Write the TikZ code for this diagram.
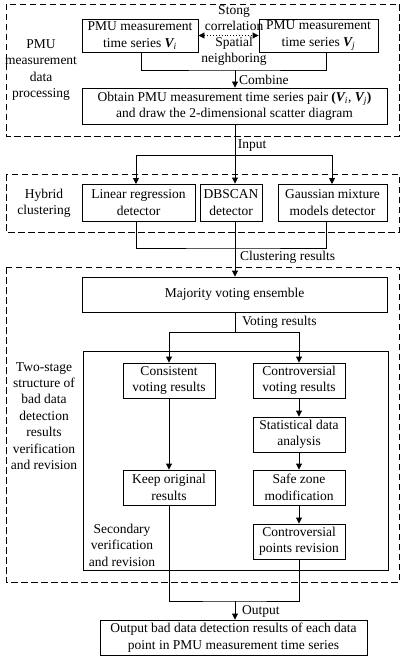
\documentclass[tikz,border=0pt]{standalone}
\usepackage{fontspec}
\setmainfont{Liberation Serif}
\usetikzlibrary{arrows.meta}
\newcommand{\Vv}[1]{{\bfseries\itshape V}\textsubscript{\itshape #1}}
\begin{document}
\begin{tikzpicture}[x=1pt,y=-1pt,
  every node/.style={font=\fontsize{13.5}{16.4}\selectfont, inner sep=0pt, align=center},
  box/.style={draw, line width=0.9pt, rectangle},
  dbox/.style={draw, line width=0.9pt, dash pattern=on 6.5pt off 3.5pt},
  ln/.style={line width=0.9pt},
  arr/.style={line width=0.9pt, -{Triangle[length=6pt,width=6pt]}},
  lbl/.style={}]
\useasboundingbox (0,0) rectangle (400,658);
% group frames
\draw[dbox] (6,4) rectangle (399,136);
\draw[dbox] (6,174) rectangle (399,232);
\draw[dbox] (6,267) rectangle (399,582);
\draw[ln] (83,351) rectangle (388,570);
% stage 1
\node[box, minimum width=116, minimum height=33] (vi) at (140,35.5) {PMU measurement\\time series \Vv{i}};
\node[box, minimum width=119, minimum height=33] (vj) at (318.5,35.5) {PMU measurement\\time series \Vv{j}};
\node (corr) at (234,18) {Stong\\correlation};
\node (spat) at (234,51) {Spatial\\neighboring};
\draw[line width=0.9pt, dotted, {Triangle[length=6pt,width=6pt]}-{Triangle[length=6pt,width=6pt]}] (vi.east) -- (vj.east -| vj.west);
\node (lab1) at (41,70) {PMU\\measurement\\data\\processing};
\node[box, minimum width=305, minimum height=36] (obt) at (234.5,106) {Obtain PMU measurement time series pair {\bfseries(}\Vv{i}, \Vv{j}{\bfseries)}\\and draw the 2-dimensional scatter diagram};
\coordinate (cmb) at (235,70);
\draw[ln] ([xshift=1pt]vi.south) |- (cmb) -| ([xshift=7.5pt]vj.south);
\draw[arr] (cmb) -- (cmb |- obt.north);
\node[anchor=west] (combine) at (239,80) {Combine};
% stage 2
\node[box, minimum width=113, minimum height=37] (lr) at (138.5,202.5) {Linear regression\\detector};
\node[box, minimum width=62, minimum height=37] (db) at (231,202.5) {DBSCAN\\detector};
\node[box, minimum width=109, minimum height=37] (gmm) at (332.5,202.5) {Gaussian mixture\\models detector};
\node (lab2) at (44,203) {Hybrid\\clustering};
\coordinate (inp) at (235,155);
\draw[ln] (obt.south -| inp) -- (inp);
\draw[arr] (inp) -| (136,184);
\draw[arr] (inp) -| (332,184);
\draw[arr] (inp) -- (inp |- db.north);
\node (input) at (252,146) {Input};
% clustering results
\coordinate (cr) at (235,248);
\node[box, minimum width=305, minimum height=35] (maj) at (234.5,294.5) {Majority voting ensemble};
\draw[ln] (lr.south -| 136,0) |- (cr) -| (gmm.south -| 326,0);
\draw[ln] (db.south -| cr) -- (cr);
\draw[arr] (cr) -- (cr |- maj.north);
\node[anchor=west] (clres) at (240,257) {Clustering results};
% stage 3
\node[box, minimum width=92, minimum height=35] (cons) at (169,380.5) {Consistent\\voting results};
\node[box, minimum width=92, minimum height=35] (contr) at (299,380.5) {Controversial\\voting results};
\node[box, minimum width=92, minimum height=35] (stat) at (299,434.5) {Statistical data\\analysis};
\node[box, minimum width=92, minimum height=35] (safe) at (299,487.5) {Safe zone\\modification};
\node[box, minimum width=92, minimum height=35] (keep) at (169,487.5) {Keep original\\results};
\node[box, minimum width=92, minimum height=35] (cpr) at (299,541.5) {Controversial\\points revision};
\node (lab3) at (44,416) {Two-stage\\structure of\\bad data\\detection\\results\\verification\\and revision};
\node (lab4) at (122,545) {Secondary\\verification\\and revision};
\coordinate (vr) at (235,332);
\draw[ln] (maj.south -| vr) -- (vr);
\draw[arr] (vr) -| (cons.north);
\draw[arr] (vr) -| (contr.north);
\node[anchor=west] (votres) at (242,322) {Voting results};
\draw[arr] (cons) -- (keep);
\draw[arr] (contr) -- (stat);
\draw[arr] (stat) -- (safe);
\draw[arr] (safe) -- (cpr);
% output
\coordinate (op) at (235,601);
\node[box, minimum width=267, minimum height=35] (out) at (233.5,637.5) {Output bad data detection results of each data\\point in PMU measurement time series};
\draw[ln] (keep.south) |- (op) -| (cpr.south);
\draw[arr] (op) -- (op |- out.north);
\node[anchor=west] (outl) at (242,611) {Output};
\end{tikzpicture}
\end{document}
